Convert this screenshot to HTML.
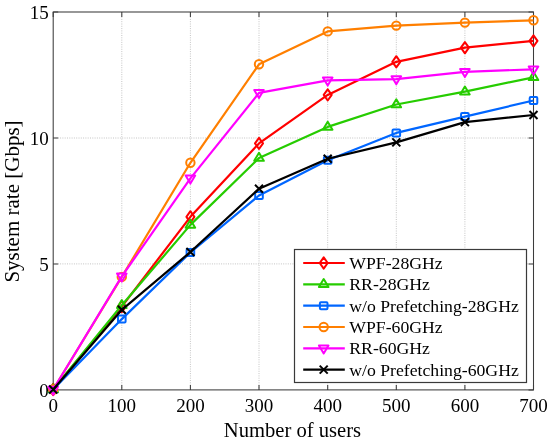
<!DOCTYPE html>
<html><head><meta charset="utf-8"><title>System rate</title>
<style>html,body{margin:0;padding:0;background:#fff}svg{display:block}text{font-family:"Liberation Serif","Times New Roman",serif;fill:#000}</style></head><body>
<svg width="550" height="440" viewBox="0 0 550 440">
<rect width="550" height="440" fill="#fff"/>
<path d="M121.8 12.0V389.9M190.4 12.0V389.9M259.0 12.0V389.9M327.7 12.0V389.9M396.3 12.0V389.9M464.9 12.0V389.9M53.2 263.9H533.5M53.2 138.0H533.5" stroke="#c4c4c4" stroke-width="1" stroke-dasharray="1 1.3" fill="none"/>
<rect x="53.2" y="12.0" width="480.3" height="377.9" fill="none" stroke="#3c3c3c" stroke-width="1.05"/>
<path d="M53.2 389.9v-5M53.2 12.0v5M121.8 389.9v-5M121.8 12.0v5M190.4 389.9v-5M190.4 12.0v5M259.0 389.9v-5M259.0 12.0v5M327.7 389.9v-5M327.7 12.0v5M396.3 389.9v-5M396.3 12.0v5M464.9 389.9v-5M464.9 12.0v5M533.5 389.9v-5M533.5 12.0v5M53.2 389.9h5M533.5 389.9h-5M53.2 263.9h5M533.5 263.9h-5M53.2 138.0h5M533.5 138.0h-5M53.2 12.0h5M533.5 12.0h-5" stroke="#3c3c3c" stroke-width="1.05" fill="none"/>
<text x="53.2" y="411.5" font-size="19" text-anchor="middle">0</text>
<text x="121.8" y="411.5" font-size="19" text-anchor="middle">100</text>
<text x="190.4" y="411.5" font-size="19" text-anchor="middle">200</text>
<text x="259.0" y="411.5" font-size="19" text-anchor="middle">300</text>
<text x="327.7" y="411.5" font-size="19" text-anchor="middle">400</text>
<text x="396.3" y="411.5" font-size="19" text-anchor="middle">500</text>
<text x="464.9" y="411.5" font-size="19" text-anchor="middle">600</text>
<text x="533.5" y="411.5" font-size="19" text-anchor="middle">700</text>
<text x="48.8" y="396.9" font-size="19" text-anchor="end">0</text>
<text x="48.8" y="270.9" font-size="19" text-anchor="end">5</text>
<text x="48.8" y="145.0" font-size="19" text-anchor="end">10</text>
<text x="48.8" y="19.0" font-size="19" text-anchor="end">15</text>
<text x="292.5" y="436.5" font-size="20.6" text-anchor="middle">Number of users</text>
<text transform="translate(19.2 201.5) rotate(-90)" font-size="21" text-anchor="middle">System rate [Gbps]</text>
<polyline points="53.2,389.5 121.8,306.6 190.4,216.8 259.0,143.4 327.7,94.9 396.3,61.8 464.9,47.7 533.5,40.9" fill="none" stroke="#ff0000" stroke-width="2.2" stroke-linejoin="round"/>
<path d="M53.2 383.9L57.2 389.5L53.2 395.1L49.2 389.5Z" fill="none" stroke="#ff0000" stroke-width="2.0" stroke-linejoin="round"/>
<path d="M121.8 301.0L125.8 306.6L121.8 312.2L117.8 306.6Z" fill="none" stroke="#ff0000" stroke-width="2.0" stroke-linejoin="round"/>
<path d="M190.4 211.2L194.4 216.8L190.4 222.4L186.4 216.8Z" fill="none" stroke="#ff0000" stroke-width="2.0" stroke-linejoin="round"/>
<path d="M259.0 137.8L263.0 143.4L259.0 149.0L255.0 143.4Z" fill="none" stroke="#ff0000" stroke-width="2.0" stroke-linejoin="round"/>
<path d="M327.7 89.3L331.7 94.9L327.7 100.5L323.7 94.9Z" fill="none" stroke="#ff0000" stroke-width="2.0" stroke-linejoin="round"/>
<path d="M396.3 56.2L400.3 61.8L396.3 67.4L392.3 61.8Z" fill="none" stroke="#ff0000" stroke-width="2.0" stroke-linejoin="round"/>
<path d="M464.9 42.1L468.9 47.7L464.9 53.3L460.9 47.7Z" fill="none" stroke="#ff0000" stroke-width="2.0" stroke-linejoin="round"/>
<path d="M533.5 35.3L537.5 40.9L533.5 46.5L529.5 40.9Z" fill="none" stroke="#ff0000" stroke-width="2.0" stroke-linejoin="round"/>
<polyline points="53.2,389.5 121.8,305.3 190.4,224.9 259.0,158.0 327.7,126.9 396.3,104.5 464.9,91.7 533.5,77.3" fill="none" stroke="#26cc00" stroke-width="2.2" stroke-linejoin="round"/>
<path d="M53.2 384.3L58.0 392.3L48.4 392.3Z" fill="none" stroke="#26cc00" stroke-width="2.0" stroke-linejoin="round"/>
<path d="M121.8 300.1L126.6 308.1L117.0 308.1Z" fill="none" stroke="#26cc00" stroke-width="2.0" stroke-linejoin="round"/>
<path d="M190.4 219.7L195.2 227.7L185.6 227.7Z" fill="none" stroke="#26cc00" stroke-width="2.0" stroke-linejoin="round"/>
<path d="M259.0 152.8L263.8 160.8L254.2 160.8Z" fill="none" stroke="#26cc00" stroke-width="2.0" stroke-linejoin="round"/>
<path d="M327.7 121.7L332.5 129.7L322.9 129.7Z" fill="none" stroke="#26cc00" stroke-width="2.0" stroke-linejoin="round"/>
<path d="M396.3 99.3L401.1 107.3L391.5 107.3Z" fill="none" stroke="#26cc00" stroke-width="2.0" stroke-linejoin="round"/>
<path d="M464.9 86.5L469.7 94.5L460.1 94.5Z" fill="none" stroke="#26cc00" stroke-width="2.0" stroke-linejoin="round"/>
<path d="M533.5 72.1L538.3 80.1L528.7 80.1Z" fill="none" stroke="#26cc00" stroke-width="2.0" stroke-linejoin="round"/>
<polyline points="53.2,389.5 121.8,319.1 190.4,252.5 259.0,195.5 327.7,160.3 396.3,132.9 464.9,116.6 533.5,100.5" fill="none" stroke="#0066ff" stroke-width="2.2" stroke-linejoin="round"/>
<rect x="49.4" y="386.0" width="7.6" height="7.0" rx="1" fill="none" stroke="#0066ff" stroke-width="2.0" stroke-linejoin="round"/>
<rect x="118.0" y="315.6" width="7.6" height="7.0" rx="1" fill="none" stroke="#0066ff" stroke-width="2.0" stroke-linejoin="round"/>
<rect x="186.6" y="249.0" width="7.6" height="7.0" rx="1" fill="none" stroke="#0066ff" stroke-width="2.0" stroke-linejoin="round"/>
<rect x="255.2" y="192.0" width="7.6" height="7.0" rx="1" fill="none" stroke="#0066ff" stroke-width="2.0" stroke-linejoin="round"/>
<rect x="323.9" y="156.8" width="7.6" height="7.0" rx="1" fill="none" stroke="#0066ff" stroke-width="2.0" stroke-linejoin="round"/>
<rect x="392.5" y="129.4" width="7.6" height="7.0" rx="1" fill="none" stroke="#0066ff" stroke-width="2.0" stroke-linejoin="round"/>
<rect x="461.1" y="113.1" width="7.6" height="7.0" rx="1" fill="none" stroke="#0066ff" stroke-width="2.0" stroke-linejoin="round"/>
<rect x="529.7" y="97.0" width="7.6" height="7.0" rx="1" fill="none" stroke="#0066ff" stroke-width="2.0" stroke-linejoin="round"/>
<polyline points="53.2,389.5 121.8,276.9 190.4,162.8 259.0,64.3 327.7,31.4 396.3,25.6 464.9,22.6 533.5,20.3" fill="none" stroke="#ff7f00" stroke-width="2.2" stroke-linejoin="round"/>
<circle cx="53.2" cy="389.5" r="4.2" fill="none" stroke="#ff7f00" stroke-width="2.0"/>
<circle cx="121.8" cy="276.9" r="4.2" fill="none" stroke="#ff7f00" stroke-width="2.0"/>
<circle cx="190.4" cy="162.8" r="4.2" fill="none" stroke="#ff7f00" stroke-width="2.0"/>
<circle cx="259.0" cy="64.3" r="4.2" fill="none" stroke="#ff7f00" stroke-width="2.0"/>
<circle cx="327.7" cy="31.4" r="4.2" fill="none" stroke="#ff7f00" stroke-width="2.0"/>
<circle cx="396.3" cy="25.6" r="4.2" fill="none" stroke="#ff7f00" stroke-width="2.0"/>
<circle cx="464.9" cy="22.6" r="4.2" fill="none" stroke="#ff7f00" stroke-width="2.0"/>
<circle cx="533.5" cy="20.3" r="4.2" fill="none" stroke="#ff7f00" stroke-width="2.0"/>
<polyline points="53.2,389.5 121.8,276.4 190.4,178.4 259.0,92.9 327.7,80.4 396.3,79.1 464.9,71.8 533.5,69.3" fill="none" stroke="#ff00ff" stroke-width="2.2" stroke-linejoin="round"/>
<path d="M53.2 394.7L58.0 386.7L48.4 386.7Z" fill="none" stroke="#ff00ff" stroke-width="2.0" stroke-linejoin="round"/>
<path d="M121.8 281.6L126.6 273.6L117.0 273.6Z" fill="none" stroke="#ff00ff" stroke-width="2.0" stroke-linejoin="round"/>
<path d="M190.4 183.6L195.2 175.6L185.6 175.6Z" fill="none" stroke="#ff00ff" stroke-width="2.0" stroke-linejoin="round"/>
<path d="M259.0 98.1L263.8 90.1L254.2 90.1Z" fill="none" stroke="#ff00ff" stroke-width="2.0" stroke-linejoin="round"/>
<path d="M327.7 85.6L332.5 77.6L322.9 77.6Z" fill="none" stroke="#ff00ff" stroke-width="2.0" stroke-linejoin="round"/>
<path d="M396.3 84.3L401.1 76.3L391.5 76.3Z" fill="none" stroke="#ff00ff" stroke-width="2.0" stroke-linejoin="round"/>
<path d="M464.9 77.0L469.7 69.0L460.1 69.0Z" fill="none" stroke="#ff00ff" stroke-width="2.0" stroke-linejoin="round"/>
<path d="M533.5 74.5L538.3 66.5L528.7 66.5Z" fill="none" stroke="#ff00ff" stroke-width="2.0" stroke-linejoin="round"/>
<polyline points="53.2,389.5 121.8,309.8 190.4,252.0 259.0,188.7 327.7,158.8 396.3,142.4 464.9,122.1 533.5,115.0" fill="none" stroke="#000000" stroke-width="2.2" stroke-linejoin="round"/>
<path d="M49.2 385.5L57.2 393.5M49.2 393.5L57.2 385.5" fill="none" stroke="#000000" stroke-width="2"/>
<path d="M117.8 305.8L125.8 313.8M117.8 313.8L125.8 305.8" fill="none" stroke="#000000" stroke-width="2"/>
<path d="M186.4 248.0L194.4 256.0M186.4 256.0L194.4 248.0" fill="none" stroke="#000000" stroke-width="2"/>
<path d="M255.0 184.7L263.0 192.7M255.0 192.7L263.0 184.7" fill="none" stroke="#000000" stroke-width="2"/>
<path d="M323.7 154.8L331.7 162.8M323.7 162.8L331.7 154.8" fill="none" stroke="#000000" stroke-width="2"/>
<path d="M392.3 138.4L400.3 146.4M392.3 146.4L400.3 138.4" fill="none" stroke="#000000" stroke-width="2"/>
<path d="M460.9 118.1L468.9 126.1M460.9 126.1L468.9 118.1" fill="none" stroke="#000000" stroke-width="2"/>
<path d="M529.5 111.0L537.5 119.0M529.5 119.0L537.5 111.0" fill="none" stroke="#000000" stroke-width="2"/>
<rect x="294.5" y="249.5" width="232" height="133" fill="#fff" stroke="#3a3a3a" stroke-width="1.2"/>
<path d="M303.2 263.0H344.8" stroke="#ff0000" stroke-width="2.2" fill="none"/>
<path d="M323.7 257.4L327.7 263.0L323.7 268.6L319.7 263.0Z" fill="none" stroke="#ff0000" stroke-width="2.0" stroke-linejoin="round"/>
<text x="349.3" y="269.0" font-size="17.7">WPF-28GHz</text>
<path d="M303.2 284.3H344.8" stroke="#26cc00" stroke-width="2.2" fill="none"/>
<path d="M323.7 279.1L328.5 287.1L318.9 287.1Z" fill="none" stroke="#26cc00" stroke-width="2.0" stroke-linejoin="round"/>
<text x="349.3" y="290.3" font-size="17.7">RR-28GHz</text>
<path d="M303.2 305.7H344.8" stroke="#0066ff" stroke-width="2.2" fill="none"/>
<rect x="319.9" y="302.2" width="7.6" height="7.0" rx="1" fill="none" stroke="#0066ff" stroke-width="2.0" stroke-linejoin="round"/>
<text x="349.3" y="311.7" font-size="17.7">w/o Prefetching-28GHz</text>
<path d="M303.2 327.0H344.8" stroke="#ff7f00" stroke-width="2.2" fill="none"/>
<circle cx="323.7" cy="327.0" r="4.2" fill="none" stroke="#ff7f00" stroke-width="2.0"/>
<text x="349.3" y="333.0" font-size="17.7">WPF-60GHz</text>
<path d="M303.2 348.3H344.8" stroke="#ff00ff" stroke-width="2.2" fill="none"/>
<path d="M323.7 353.5L328.5 345.5L318.9 345.5Z" fill="none" stroke="#ff00ff" stroke-width="2.0" stroke-linejoin="round"/>
<text x="349.3" y="354.3" font-size="17.7">RR-60GHz</text>
<path d="M303.2 369.6H344.8" stroke="#000000" stroke-width="2.2" fill="none"/>
<path d="M319.7 365.6L327.7 373.6M319.7 373.6L327.7 365.6" fill="none" stroke="#000000" stroke-width="2"/>
<text x="349.3" y="375.6" font-size="17.7">w/o Prefetching-60GHz</text>
</svg></body></html>
